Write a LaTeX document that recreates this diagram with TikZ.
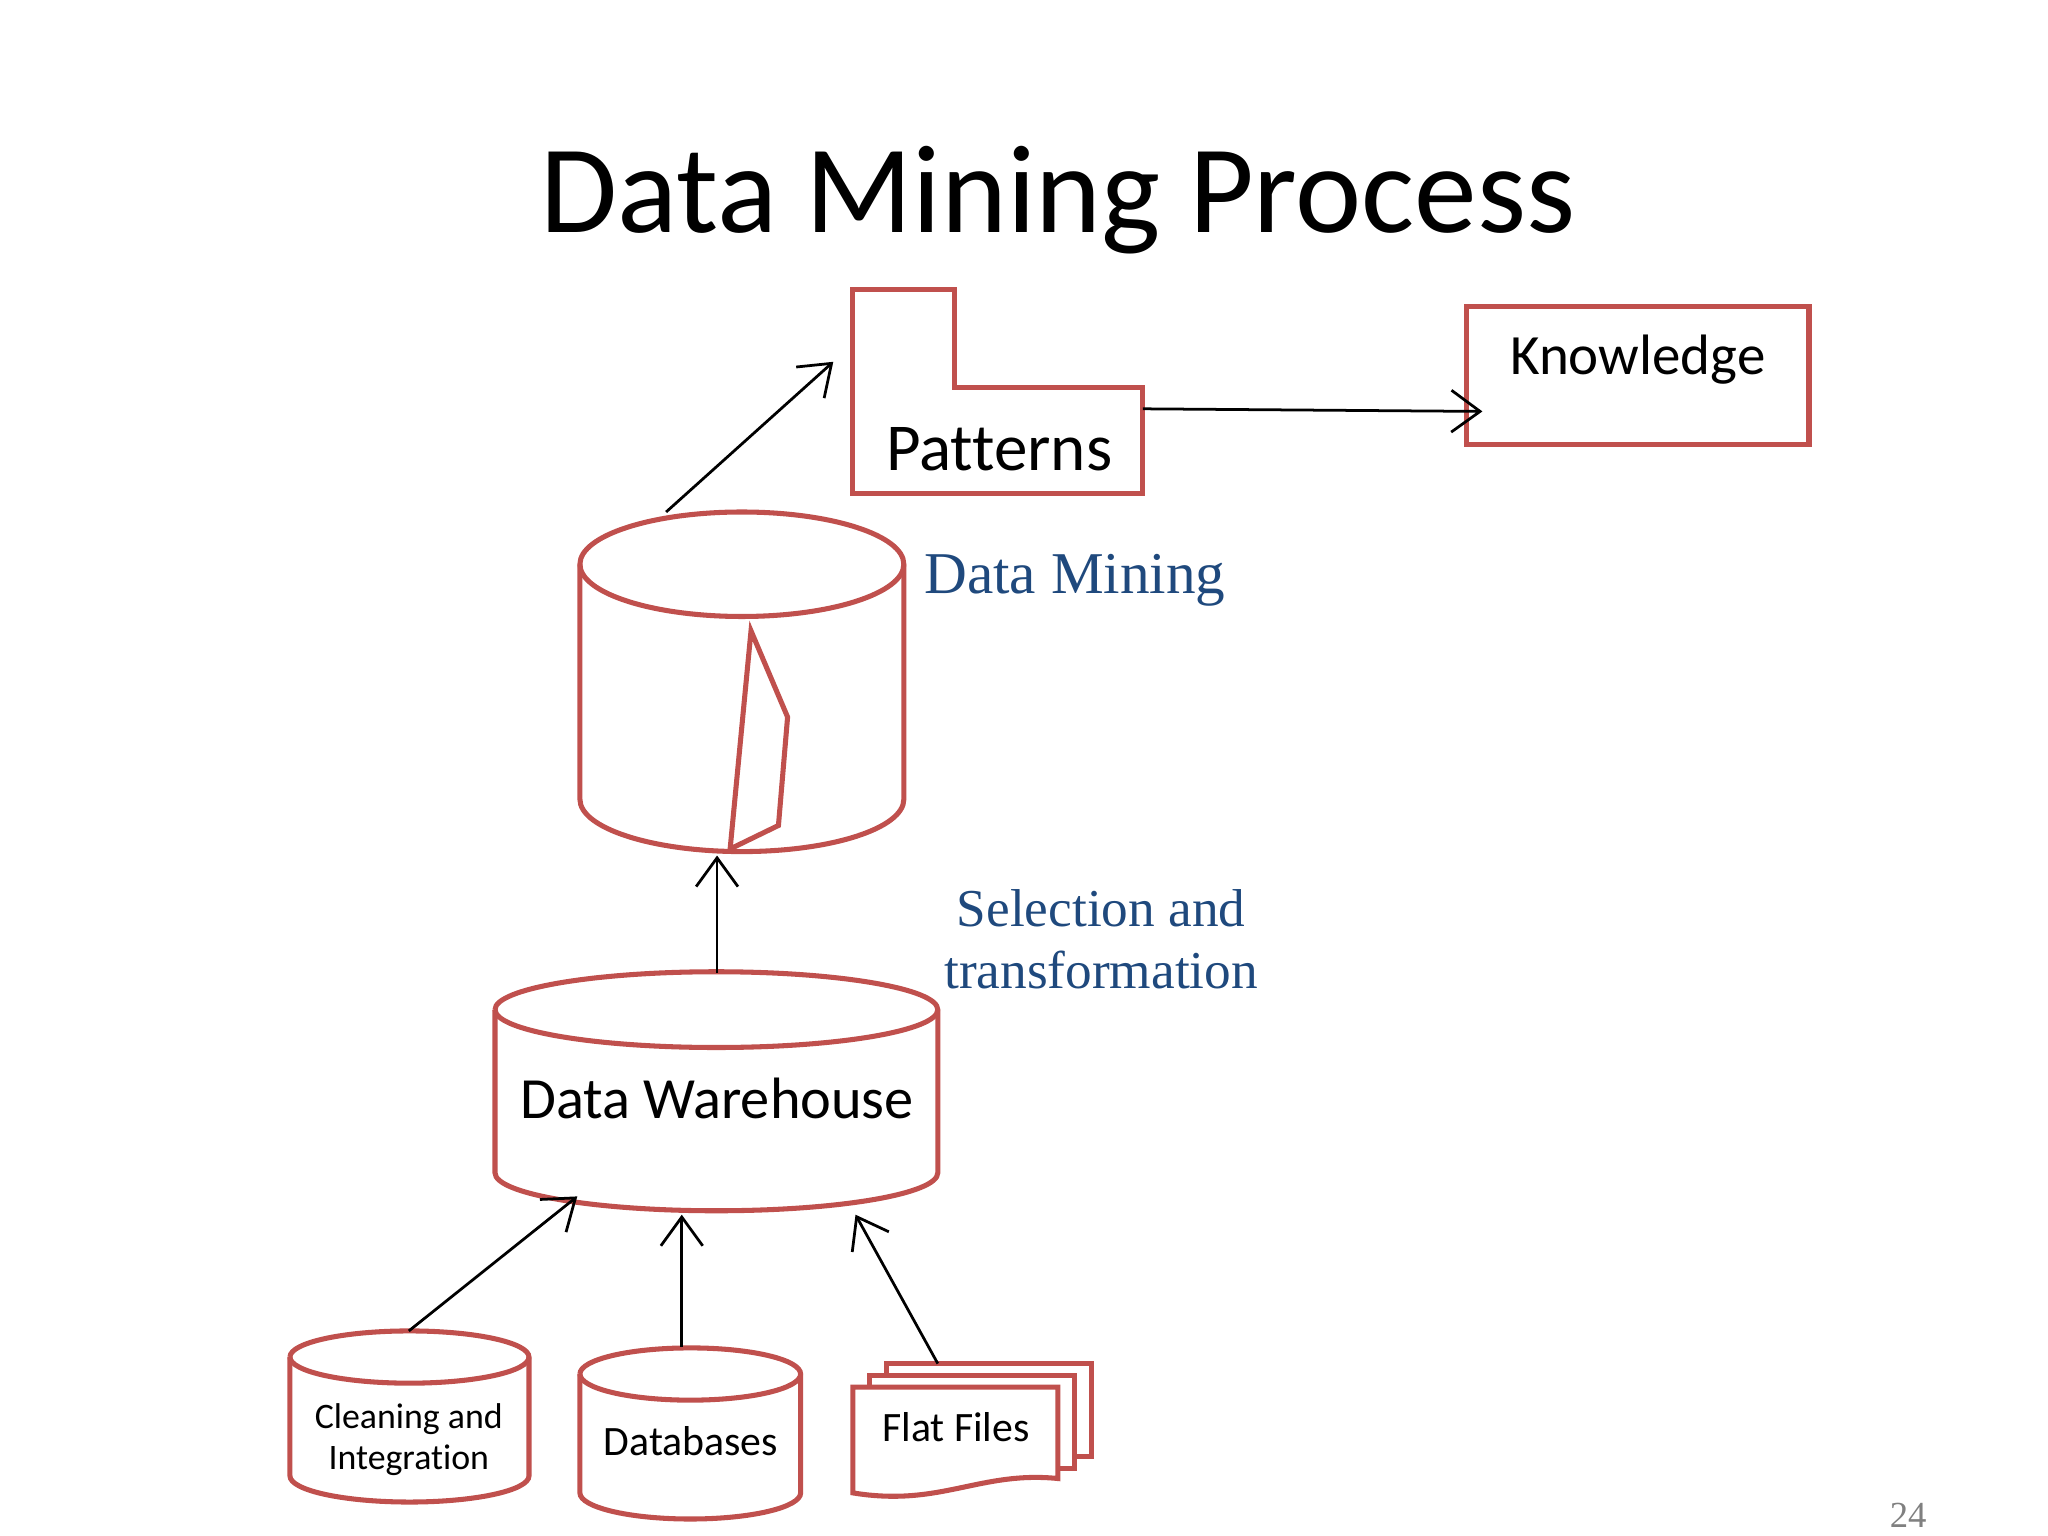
\documentclass[tikz,border=0pt]{standalone}
\usepackage{fontspec}
\setmainfont{Carlito}[Ligatures={NoCommon,TeX}]
\newfontfamily\seriffont{Liberation Serif}
\usetikzlibrary{arrows.meta}
\definecolor{dred}{HTML}{C0504D}
\definecolor{dblue}{HTML}{1F497D}
\tikzset{
 redline/.style={draw=dred,line width=1.1pt,fill=white},
 arr/.style={line width=0.6pt,-{Straight Barb[length=2.2mm,width=3.2mm]}},
 lbl/.style={inner sep=0pt,align=center},
}
\newcommand\mycyl[5]{%
 \pgfmathsetmacro\rx{(#2-#1)/2*0.01}
 \pgfmathsetmacro\ry{#5*0.01}
 \draw[redline] (#1,#3) -- (#1,#4) arc[start angle=180,end angle=360,x radius=\rx cm,y radius=\ry cm]
   -- (#2,#3) arc[start angle=0,end angle=180,x radius=\rx cm,y radius=\ry cm];
 \draw[redline,fill=none] (#1,#3) arc[start angle=180,end angle=360,x radius=\rx cm,y radius=\ry cm];
}
\begin{document}
\begin{tikzpicture}[x=0.01cm,y=-0.01cm]
\useasboundingbox (0,0) rectangle (1568,1176);
\node[lbl,font=\fontsize{27.3}{32}\selectfont] (title) at (810,153) {Data Mining Process};
% patterns
\draw[redline] (653,222) -- (731,222) -- (731,297) -- (875,297) -- (875,378) -- (653,378) -- cycle;
\node[lbl,font=\fontsize{14.6}{17}\selectfont] (pat) at (765,344) {Patterns};
% knowledge
\draw[redline] (1123,235) rectangle (1385,340);
\node[lbl,font=\fontsize{12.4}{15}\selectfont] (know) at (1254,275) {Knowledge};
\coordinate (patR) at (875,313); \coordinate (knowL) at (1135,315);
\draw[arr] (patR) -- (knowL);
% data mining cylinder
\mycyl{444}{692}{432}{612}{40}
\draw[redline,fill=none] (575,483) -- (603,549) -- (596,632) -- (559,650) -- cycle;
\node[lbl,text=dblue,font=\seriffont\fontsize{12.9}{16}\selectfont] (dm) at (823,444) {Data Mining};
\coordinate (dmT) at (510,392); \coordinate (patBL) at (638,277);
\draw[arr] (dmT) -- (patBL);
% data warehouse
\mycyl{379}{718}{773}{898}{29}
\node[lbl,font=\fontsize{12.7}{16}\selectfont] (dw) at (549,841) {Data Warehouse};
\node[lbl,text=dblue,font=\seriffont\fontsize{11.6}{13.5}\selectfont] (sel) at (843,719) {Selection and\\transformation};
\coordinate (dwT) at (549,745); \coordinate (dmB) at (549,655);
\draw[arr] (dwT) -- (dmB);
% small cylinders
\mycyl{222}{405}{1039}{1130}{20}
\node[lbl,font=\fontsize{7.8}{9}\selectfont] (clean) at (313,1102) {Cleaning and\\Integration};
\mycyl{444}{613}{1052}{1143}{20}
\node[lbl,font=\fontsize{9.1}{11}\selectfont] (db) at (529,1103) {Databases};
% flat files
\draw[redline] (679,1044) rectangle (836,1115);
\draw[redline] (666,1053) rectangle (823,1124);
\draw[redline] (653,1062) -- (810,1062) -- (810,1132) .. controls (750,1126) and (720,1154) .. (653,1143) -- cycle;
\node[lbl,font=\fontsize{9.1}{11}\selectfont] (ff) at (732,1093) {Flat Files};
% arrows
\coordinate (cT) at (313,1019); \coordinate (dwB1) at (442,916);
\coordinate (dbT) at (522,1031); \coordinate (dwB2) at (522,930);
\coordinate (ffT) at (718,1044); \coordinate (dwB3) at (655,930);
\draw[arr] (cT) -- (dwB1);
\draw[arr] (dbT) -- (dwB2);
\draw[arr] (ffT) -- (dwB3);
\node[lbl,text=gray,font=\seriffont\fontsize{8}{10}\selectfont] (pg) at (1461,1160) {24};
\end{tikzpicture}
\end{document}
